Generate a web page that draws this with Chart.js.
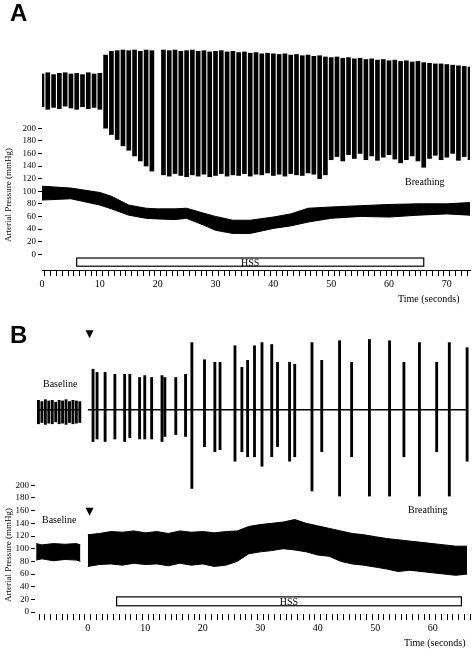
<!DOCTYPE html>
<html>
<head>
<meta charset="utf-8">
<script src="https://cdn.jsdelivr.net/npm/chart.js@4.4.0/dist/chart.umd.min.js"></script>
<style>
  body { margin: 0; background: #fff; }
  .wrap { position: absolute; left: 0; width: 474px; }
</style>
</head>
<body>
<div class="wrap" style="top:0;height:310px"><canvas id="chartA"></canvas></div>
<div class="wrap" style="top:320px;height:331px"><canvas id="chartB"></canvas></div>
<script>
// ---- Panel A data ----
const pressA_t     = [0, 5, 10, 12, 15, 18, 20, 23, 25, 28, 30, 33, 36, 40, 43, 46, 50, 55, 60, 65, 70, 74];
const pressA_upper = [108, 105, 98, 92, 78, 73, 72, 72, 73, 65, 60, 54, 54, 59, 64, 73, 75, 77, 79, 80, 80, 82];
const pressA_lower = [86, 88, 78, 72, 62, 57, 56, 55, 57, 46, 38, 33, 33, 41, 45, 51, 57, 60, 59, 62, 64, 62];
// one breathing stroke per second, t = 0..74
const breathA_top = [286,288,285,287,288,286,287,285,288,286,287, 316,
  322,323,324,323,324,322,324,323, null,
  324,323,324,322,323,324,322,323,321,322,323,321,322,
  320,321,319,320,318,319,318,317,318,316,317,315,316,314,315,313,
  312,313,311,312,310,311,309,310,308,309,307,308,306,307,305,306,304,303,302,302,301,300,299,298,297];
const breathA_bot = [234,230,233,231,235,232,230,234,231,233,230, 200,
  190,182,172,165,156,148,140,132, null,
  126,124,128,125,123,126,124,127,123,125,128,124,126,
  125,128,124,127,126,129,125,127,124,128,126,125,129,127,120,126,
  150,155,148,158,152,160,150,156,149,154,158,151,145,150,156,148,138,152,157,150,154,160,149,155,150];
const hssA = [6, 66];

// ---- Panel B data ----
const pressB_t     = [-9, -8, -6, -4, -2, -1.3, -0.6, 0, 2, 4, 6, 8, 10, 12, 14, 16, 18, 20, 22, 24, 26, 28, 30, 32, 34, 36, 38, 40, 42, 44, 46, 48, 50, 52, 54, 56, 58, 60, 62, 64, 66];
const pressB_upper = [108, 106, 108, 107, 108, 106, null, 122, 124, 127, 126, 128, 125, 127, 124, 128, 126, 127, 125, 127, 128, 135, 138, 140, 142, 146, 140, 136, 132, 128, 124, 122, 119, 116, 114, 112, 110, 108, 106, 104, 104];
const pressB_lower = [82, 84, 81, 83, 82, 80, null, 72, 75, 76, 74, 77, 75, 76, 73, 77, 74, 76, 72, 74, 80, 92, 95, 97, 100, 98, 95, 90, 88, 80, 76, 74, 71, 68, 64, 66, 64, 62, 60, 58, 60];
const breathB_t   = [-8.6,-8.0,-7.4,-6.8,-6.2,-5.6,-5.0,-4.4,-3.8,-3.2,-2.6,-2.0,-1.4,
  0.9,1.6,3.0,4.7,6.4,7.3,9.0,9.9,11.1,12.9,13.4,15.3,17.0,18.1,20.3,22.1,23.0,25.6,26.8,27.8,29.0,30.3,32.0,33.0,35.1,36.0,39.0,40.7,43.8,45.9,49.0,52.5,55.0,57.7,60.7,62.9,66.0];
const breathB_top = [334,332,335,333,334,331,334,333,335,332,334,333,332,
  383,378,378,375,375,375,370,373,370,373,370,370,375,425,398,394,394,420,386,397,420,425,422,394,394,391,425,397,428,394,430,428,394,425,394,425,417];
const breathB_bot = [297,299,296,298,297,300,297,298,296,299,297,298,299,
  269,273,269,273,269,275,273,273,273,269,277,280,277,195,261,253,256,238,253,245,245,230,245,261,238,245,191,253,183,245,183,183,245,183,253,183,238];
const baseB_t = [-8.8, -1.2, null, 0, 66];
const baseB_v = [319, 319, null, 319, 319];
const hssB = [5, 65];

const serif = "'Liberation Serif', 'DejaVu Serif', serif";
Chart.defaults.font.family = serif;
Chart.defaults.color = '#000';

function pts(xs, ys) { return xs.map((x, i) => ({ x: x, y: ys[i] })); }

const overlay = {
  id: 'overlay',
  afterDraw(chart, args, o) {
    const { ctx, scales: { x, y } } = chart;
    ctx.save();
    ctx.fillStyle = '#000'; ctx.strokeStyle = '#000';
    // HSS box
    const x0 = x.getPixelForValue(o.hss[0]), x1 = x.getPixelForValue(o.hss[1]);
    const y0 = y.getPixelForValue(o.hssY[1]), y1 = y.getPixelForValue(o.hssY[0]);
    ctx.lineWidth = 1.2;
    ctx.fillStyle = '#fff';
    ctx.fillRect(x0, y0, x1 - x0, y1 - y0);
    ctx.strokeRect(x0, y0, x1 - x0, y1 - y0);
    ctx.fillStyle = '#000';
    ctx.font = '10px ' + serif;
    ctx.textAlign = 'center'; ctx.textBaseline = 'middle';
    ctx.fillText('HSS', (x0 + x1) / 2, (y0 + y1) / 2 + 1);
    // letter
    ctx.font = 'bold 24px Arial, "Liberation Sans", sans-serif';
    ctx.textAlign = 'left'; ctx.textBaseline = 'top';
    ctx.fillText(o.letter, 10, o.letterY);
    // texts
    ctx.font = '10px ' + serif;
    ctx.textBaseline = 'middle';
    o.texts.forEach(t => { ctx.textAlign = t.a || 'left'; ctx.fillText(t.s, t.x, t.y); });
    // markers
    o.marks.forEach(m => {
      const px = x.getPixelForValue(m.t), py = y.getPixelForValue(m.v);
      ctx.beginPath(); ctx.moveTo(px - 4, py - 6); ctx.lineTo(px + 4, py - 6); ctx.lineTo(px, py + 2); ctx.closePath(); ctx.fill();
    });
    // y title
    ctx.save();
    ctx.translate(9, o.titleY);
    ctx.rotate(-Math.PI / 2);
    ctx.textAlign = 'center';
    ctx.font = '9px ' + serif;
    ctx.fillText('Arterial Pressure (mmHg)', 0, 0);
    ctx.restore();
    ctx.restore();
  }
};

function makeChart(id, cfg) {
  return new Chart(document.getElementById(id), {
    type: 'bar',
    data: { datasets: [
      { type: 'bar', data: cfg.strokes, backgroundColor: '#000', barThickness: cfg.barW, grouped: false },
      { type: 'line', data: pts(cfg.baseT, cfg.baseV), borderColor: '#000', borderWidth: 1.5, pointRadius: 0, spanGaps: false },
      { type: 'line', data: pts(cfg.pt, cfg.pu), borderColor: '#000', borderWidth: 1, pointRadius: 0, tension: 0, spanGaps: false },
      { type: 'line', data: pts(cfg.pt, cfg.pl), borderColor: '#000', borderWidth: 1, pointRadius: 0, tension: 0, fill: '-1', backgroundColor: '#000', spanGaps: false }
    ] },
    options: {
      responsive: true, maintainAspectRatio: false, animation: false,
      layout: { padding: { top: cfg.padTop, right: 4, left: 0, bottom: 0 } },
      plugins: { legend: { display: false }, tooltip: { enabled: false }, overlay: cfg.overlay },
      scales: {
        x: {
          type: 'linear', min: cfg.xmin, max: cfg.xmax, offset: false,
          afterBuildTicks: s => { const t = []; for (let v = Math.ceil(cfg.xmin); v <= cfg.xmax; v++) t.push({ value: v }); s.ticks = t; },
          afterFit: s => { s.height = cfg.xh; },
          ticks: { autoSkip: false, maxRotation: 0, font: { size: 10 }, padding: 2,
            callback: v => (v % 10 === 0 && v >= 0) ? String(v) : '' },
          grid: { drawOnChartArea: false, tickLength: 6, color: '#000', lineWidth: 1 },
          border: { display: cfg.xBorder, color: '#000' }
        },
        y: {
          min: cfg.ymin, max: cfg.ymax,
          afterBuildTicks: s => { const t = []; for (let v = 0; v <= 200; v += 20) t.push({ value: v }); s.ticks = t; },
          afterFit: s => { s.width = cfg.yw; },
          ticks: { font: { size: 9 }, padding: 2 },
          grid: { drawOnChartArea: false, tickLength: 4, color: '#000' },
          border: { display: false }
        }
      }
    },
    plugins: [overlay]
  });
}

const strokesA = breathA_top.map((top, i) => top === null ? null : ({ x: i, y: [breathA_bot[i], top] })).filter(d => d);
makeChart('chartA', {
  strokes: strokesA, barW: 4,
  baseT: [], baseV: [],
  pt: pressA_t, pu: pressA_upper, pl: pressA_lower,
  xmin: 0, xmax: 74, ymin: -25, ymax: 332, padTop: 45, xh: 40, yw: 42, xBorder: true,
  overlay: { hss: hssA, hssY: [-19, -6], letter: 'A', letterY: 2, titleY: 195,
    texts: [{ s: 'Breathing', x: 405, y: 182 }, { s: 'Time (seconds)', x: 398, y: 299 }], marks: [] }
});

const strokesB = breathB_t.map((t, i) => ({ x: t, y: [breathB_bot[i], breathB_top[i]] }));
makeChart('chartB', {
  strokes: strokesB, barW: 2.2,
  baseT: baseB_t, baseV: baseB_v,
  pt: pressB_t, pu: pressB_upper, pl: pressB_lower,
  xmin: -9.2, xmax: 66.5, ymin: -3, ymax: 437, padTop: 15, xh: 37, yw: 35, xBorder: false,
  overlay: { hss: hssB, hssY: [10, 24], letter: 'B', letterY: 4, titleY: 235,
    texts: [{ s: 'Baseline', x: 43, y: 64 }, { s: 'Baseline', x: 42, y: 200 }, { s: 'Breathing', x: 408, y: 190 }, { s: 'Time (seconds)', x: 404, y: 323 }],
    marks: [{ t: 0.3, v: 435 }, { t: 0.3, v: 155 }] }
});
</script>
</body>
</html>
